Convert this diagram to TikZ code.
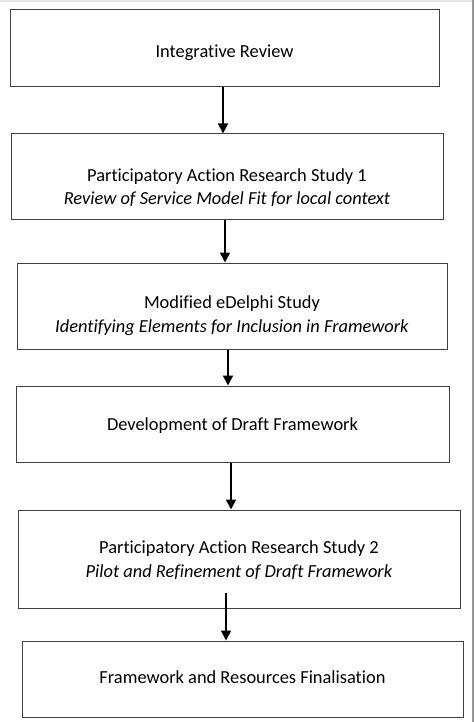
\documentclass[tikz,border=0pt]{standalone}
\usepackage{fontspec}
\setmainfont{Carlito}[Ligatures=NoCommon]
\usetikzlibrary{positioning,arrows.meta}

\begin{document}
\begin{tikzpicture}
    [x=1pt, y=-1pt,
    node distance =40pt,
    stage/.style={draw=black!75, line width=1pt, rectangle, inner sep=0pt},
    txt/.style={align=center, inner sep=0pt, font=\fontsize{18.4}{24}\selectfont},
    flow/.style={line width=1.7pt, -{Triangle[width=10pt,length=10pt]}}]
    \useasboundingbox (0,0) rectangle (474,722);
    %% frame of the scan
    \fill[black!10] (0,0) rectangle (474,2.5);
    \fill[black!40] (471.5,0) rectangle (474,722);

        %% stages
    \node[stage, minimum width=429pt, minimum height=77pt, label={[txt, yshift=-4pt]center:Integrative Review}] (B1) at (224.5,48.5) {};
        \node[stage, minimum width=432pt, minimum height=85pt, below=46pt of B1, xshift=2.5pt,
            label={[txt, yshift=-11pt, font=\fontsize{18.4}{22.5}\selectfont]center:{Participatory Action Research Study 1\\ \textit{Review of Service Model Fit for local context}}}] (B2) {};
        \node[stage, minimum width=430pt, minimum height=86pt, below=43pt of B2, xshift=5pt,
            label={[txt, yshift=-10pt]center:{Modified eDelphi Study\\ \textit{Identifying Elements for Inclusion in Framework}}}] (B3) {};
        \node[stage, minimum width=433pt, minimum height=76pt, below=36pt of B3, xshift=0.5pt,
            label={[txt, yshift=-2pt]center:Development of Draft Framework}] (B4) {};
        \node[stage, minimum width=442pt, minimum height=98pt, below=47pt of B4, xshift=6.5pt,
            label={[txt, yshift=-1pt]center:{Participatory Action Research Study 2\\ \textit{Pilot and Refinement of Draft Framework}}}] (B5) {};
        \node[stage, minimum width=441pt, minimum height=76pt, below=32pt of B5, xshift=3.5pt,
            label={[txt, yshift=2pt]center:Framework and Resources Finalisation}] (B6) {};

        %% arrows
        \draw[flow] ([xshift=-1.5pt]B1.south) -- ([xshift=-1.5pt]B1.south |- B2.north);
        \draw[flow] ([xshift=-2pt]B2.south) -- ([xshift=-2pt]B2.south |- B3.north);
        \draw[flow] ([xshift=-4pt]B3.south) -- ([xshift=-4pt]B3.south |- B4.north);
        \draw[flow] ([xshift=-1.5pt]B4.south) -- ([xshift=-1.5pt]B4.south |- B5.north);
        \draw[flow] ([xshift=-13pt,yshift=16pt]B5.south) -- ([xshift=-13pt]B5.south |- B6.north);
    \end{tikzpicture}
\end{document}
